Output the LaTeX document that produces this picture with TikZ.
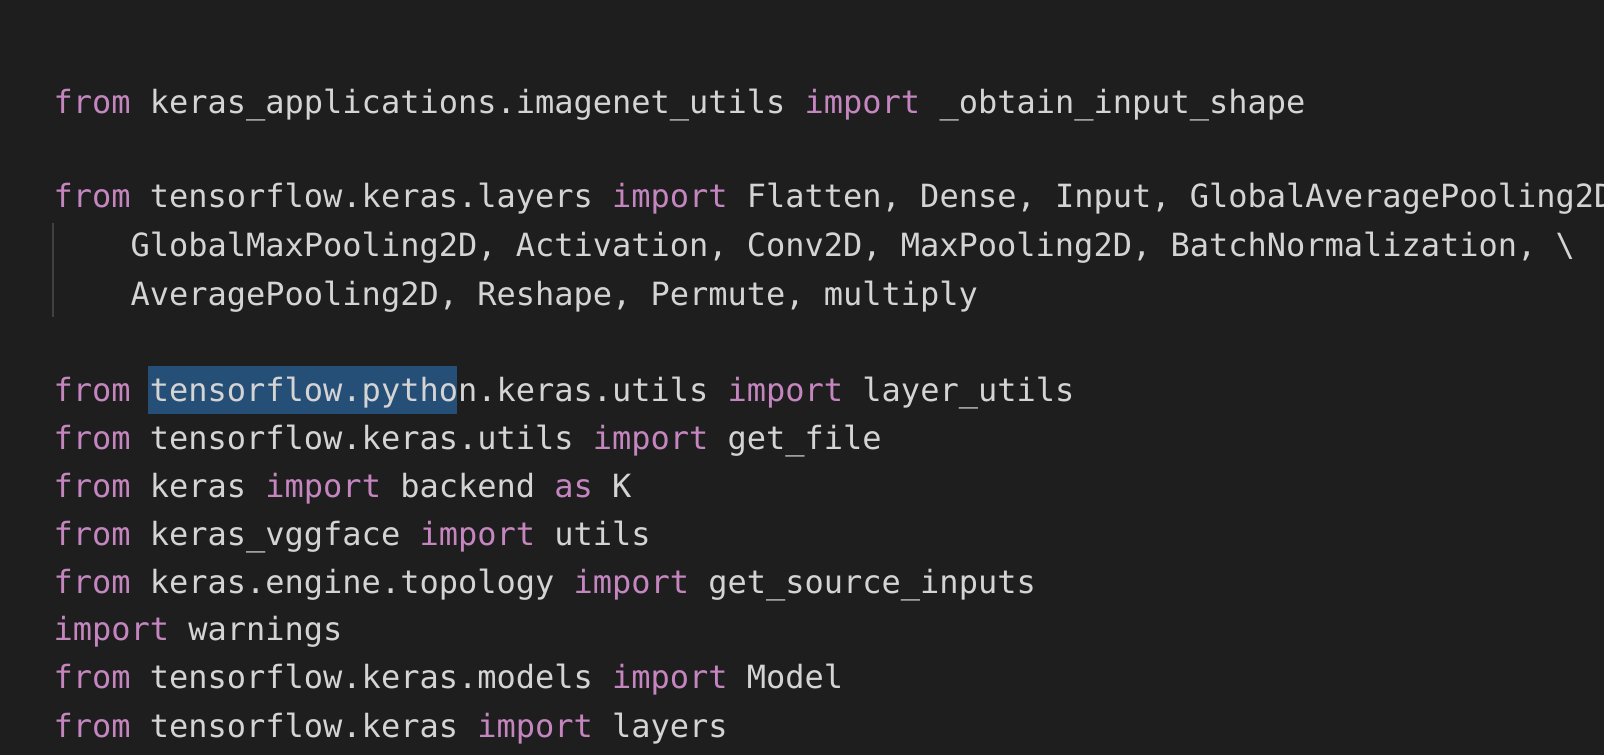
\documentclass[tikz,border=0pt]{standalone}
\usepackage{fontspec}
\setmonofont{DejaVu Sans Mono}
\definecolor{bg}{HTML}{1E1E1E}
\definecolor{fg}{HTML}{D4D4D4}
\definecolor{kw}{HTML}{C586C0}
\definecolor{sel}{HTML}{264F78}
\definecolor{guide}{HTML}{404040}
\definecolor{str}{HTML}{CE9178}
\newcommand{\kwd}[1]{\textcolor{kw}{#1}}
\begin{document}
\begin{tikzpicture}[x=0.512pt,y=-0.512pt,
  code/.style={anchor=base west,inner sep=0pt,text=fg,font=\ttfamily\fontsize{16pt}{18pt}\selectfont}]
\useasboundingbox (0,0) rectangle (1567,738);
\clip (0,0) rectangle (1567,738);
\fill[bg] (0,0) rectangle (1567,738);
\fill[sel] (145,358) rectangle (446,404);
\draw[guide,line width=1pt] (52,218) -- (52,310);
\node[code] (l0) at (52,2) {\textcolor{str}{'''}};
\node[code] (l1) at (52,111) {\kwd{from} keras\_applications.imagenet\_utils \kwd{import} \_obtain\_input\_shape};
\node[code] (l2) at (52,203) {\kwd{from} tensorflow.keras.layers \kwd{import} Flatten, Dense, Input, GlobalAveragePooling2D, \textbackslash};
\node[code] (l3) at (52,251) {\phantom{fro} GlobalMaxPooling2D, Activation, Conv2D, MaxPooling2D, BatchNormalization, \textbackslash};
\node[code] (l4) at (52,298) {\phantom{fro} AveragePooling2D, Reshape, Permute, multiply};
\node[code] (l5) at (52,392) {\kwd{from} tensorflow.python.keras.utils \kwd{import} layer\_utils};
\node[code] (l6) at (52,439) {\kwd{from} tensorflow.keras.utils \kwd{import} get\_file};
\node[code] (l7) at (52,486) {\kwd{from} keras \kwd{import} backend \kwd{as} K};
\node[code] (l8) at (52,533) {\kwd{from} keras\_vggface \kwd{import} utils};
\node[code] (l9) at (52,580) {\kwd{from} keras.engine.topology \kwd{import} get\_source\_inputs};
\node[code] (l10) at (52,626) {\kwd{import} warnings};
\node[code] (l11) at (52,673) {\kwd{from} tensorflow.keras.models \kwd{import} Model};
\node[code] (l12) at (52,720) {\kwd{from} tensorflow.keras \kwd{import} layers};
\end{tikzpicture}
\end{document}
